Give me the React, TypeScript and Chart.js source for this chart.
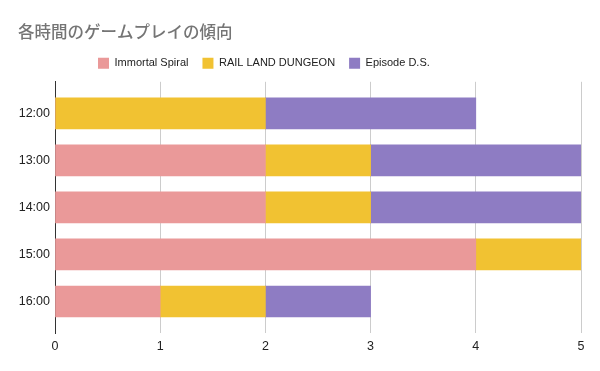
import React, { useEffect, useRef } from "react";
import { Chart, registerables } from "chart.js";

Chart.register(...registerables);

const categories = ["12:00", "13:00", "14:00", "15:00", "16:00"];
const immortalSpiral = [0, 2, 2, 4, 1];
const railLandDungeon = [2, 1, 1, 1, 1];
const episodeDS = [2, 2, 2, 0, 1];
const xTicks = [0, 1, 2, 3, 4, 5];

const seriesNames = ["Immortal Spiral", "RAIL LAND DUNGEON", "Episode D.S."];
const seriesColors = ["#ea9999", "#f1c232", "#8e7cc3"];
const seriesValues = [immortalSpiral, railLandDungeon, episodeDS];

const legendShift = {
  id: "legendShift",
  afterLayout(chart: any) {
    const lg = chart.legend;
    if (!lg) return;
    const w = lg.right - lg.left;
    const h = lg.bottom - lg.top;
    lg.left = 84;
    lg.right = 84 + w;
    lg.top = lg.top - 3;
    lg.bottom = lg.top + h;
  },
};

export default function App() {
  const ref = useRef<HTMLCanvasElement | null>(null);

  useEffect(() => {
    if (!ref.current) return;
    const chart = new Chart(ref.current, {
      type: "bar",
      data: {
        datasets: seriesValues.map((vals, s) => ({
          label: seriesNames[s],
          data: vals.map((v, i) => ({ x: v, y: i })),
          backgroundColor: seriesColors[s],
          borderWidth: 0,
          barThickness: 31,
          stack: "all",
        })),
      },
      plugins: [legendShift],
      options: {
        indexAxis: "y",
        animation: false,
        responsive: false,
        maintainAspectRatio: false,
        layout: { padding: { left: 18, right: 19, top: 0, bottom: 11 } },
        plugins: {
          title: {
            display: true,
            text: "各時間のゲームプレイの傾向",
            align: "start",
            color: "#757575",
            font: { family: "'Noto Sans CJK JP', sans-serif", size: 16.5, weight: "500" },
            padding: { top: 22, bottom: 5 },
          },
          legend: {
            display: true,
            position: "top",
            align: "start",
            labels: {
              boxWidth: 11,
              boxHeight: 11,
              padding: 14,
              color: "#222222",
              font: { family: "'Liberation Sans', Arial, sans-serif", size: 11 },
            },
          },
          tooltip: { enabled: false },
        },
        scales: {
          x: {
            type: "linear",
            stacked: true,
            min: 0,
            max: 5,
            afterBuildTicks: (scale: any) => {
              scale.ticks = xTicks.map((v) => ({ value: v }));
            },
            grid: { color: "#cccccc", drawTicks: false, lineWidth: 1 },
            border: { display: false },
            ticks: {
              color: "#222222",
              padding: 6,
              font: { family: "'Liberation Sans', Arial, sans-serif", size: 12.5 },
            },
          },
          y: {
            type: "linear",
            reverse: true,
            offset: false,
            min: -0.67,
            max: 4.67,
            afterBuildTicks: (scale: any) => {
              scale.ticks = categories.map((_, i) => ({ value: i }));
            },
            afterFit: (scale: any) => {
              scale.width = 37;
            },
            grid: { display: false, offset: false, drawOnChartArea: false, drawTicks: false },
            border: { display: true, color: "#333333", width: 1 },
            ticks: {
              color: "#222222",
              padding: 5,
              font: { family: "'Liberation Sans', Arial, sans-serif", size: 12.5 },
              callback: (v: any) => categories[v as number] ?? "",
            },
          },
        },
      },
    } as any);
    return () => chart.destroy();
  }, []);

  return (
    <div style={{ position: "fixed", left: 0, top: 0, width: 600, height: 371, background: "#fff" }}>
      <canvas ref={ref} width={600} height={371} style={{ width: 600, height: 371 }} />
    </div>
  );
}
